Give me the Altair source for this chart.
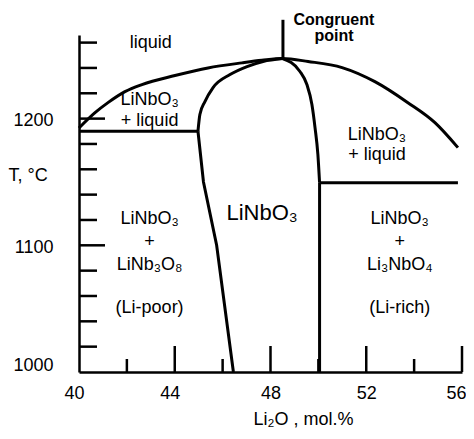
import altair as alt
import pandas as pd

FONT = "Liberation Sans"

# ---- phase boundaries (x = Li2O mol.%, T = deg C) ----
liq_x = [40.0, 40.67, 41.21, 41.92, 42.63, 44.01, 45.39, 46.81, 47.64, 48.5,
         49.57, 50.99, 52.36, 53.74, 54.87, 55.83]
liq_T = [1192.6, 1204.7, 1212.6, 1221.3, 1226.9, 1234.0, 1240.0, 1244.0, 1246.0, 1247.4,
         1245.1, 1240.3, 1229.2, 1212.6, 1196.8, 1177.1]

sol_left_x = [44.97, 45.05, 45.26, 45.60, 46.31, 47.02, 47.69, 48.5]
sol_left_T = [1190.0, 1203.2, 1213.4, 1224.5, 1234.8, 1241.1, 1245.1, 1247.4]

sol_right_x = [48.5, 49.23, 49.52, 49.73, 49.86, 49.98, 50.05]
sol_right_T = [1247.4, 1237.2, 1226.9, 1211.1, 1192.9, 1171.5, 1149.4]

solvus_left_x = [44.97, 45.2, 45.75, 46.45]
solvus_left_T = [1190.0, 1150.0, 1100.0, 1000.0]

solvus_right_x = [50.05, 50.05]
solvus_right_T = [1149.4, 1000.0]

eut_left_x = [40.0, 44.97]
eut_left_T = [1190.0, 1190.0]

eut_right_x = [50.05, 55.83]
eut_right_T = [1149.4, 1149.4]

cong_x = [48.52, 48.52]
cong_T = [1247.4, 1278.0]

# ---- axis ticks / labels ----
x_label_values = [40, 44, 48, 52, 56]
y_label_values = [1000, 1100, 1200]
x_ticks_major = [44, 48, 52, 56]
x_ticks_minor = [42, 46, 50, 54]
y_ticks_major = [1100, 1200]
y_ticks_minor = [1020, 1040, 1060, 1080, 1120, 1140, 1160, 1180, 1220, 1240, 1260]

# ---- region labels ----
lab_text = ["liquid", "LiNbO\u2083", "+ liquid", "LiNbO\u2083", "+ liquid",
            "LiNbO\u2083", "+", "LiNb\u2083O\u2088", "(Li-poor)",
            "LiNbO\u2083", "+", "Li\u2083NbO\u2084", "(Li-rich)"]
lab_x = [43.0, 42.95, 42.95, 52.45, 52.45,
         42.95, 42.95, 42.95, 42.95,
         53.4, 53.4, 53.4, 53.4]
lab_T = [1260.0, 1214.5, 1198.5, 1187.0, 1171.0,
         1120.5, 1103.0, 1084.5, 1050.5,
         1120.5, 1103.0, 1084.5, 1050.5]

big_text = ["LiNbO\u2083"]
big_x = [47.65]
big_T = [1125.7]

cong_text = ["Congruent", "point"]
cong_lx = [50.65, 50.65]
cong_lT = [1277.5, 1265.0]

W, H = 383, 337


def seg(name, xs, ts):
    return pd.DataFrame({"seg": name, "x": xs, "T": ts, "i": range(len(xs))})


smooth = pd.concat([
    seg("liquidus", liq_x, liq_T),
    seg("sol_left", sol_left_x, sol_left_T),
    seg("sol_right", sol_right_x, sol_right_T),
])
straight = pd.concat([
    seg("solvus_left", solvus_left_x, solvus_left_T),
    seg("solvus_right", solvus_right_x, solvus_right_T),
    seg("eut_left", eut_left_x, eut_left_T),
    seg("eut_right", eut_right_x, eut_right_T),
    seg("cong", cong_x, cong_T),
])

xscale = alt.Scale(domain=[40, 56], nice=False, zero=False)
yscale = alt.Scale(domain=[1000, 1266], nice=False, zero=False)

xaxis = alt.Axis(values=x_label_values, format="d", ticks=False, tickSize=0, grid=False,
                 domainColor="black", domainWidth=2.5, labelFontSize=18,
                 labelFont=FONT, labelColor="black", labelPadding=12,
                 labelFlush=False,
                 labelOffset=alt.ExprRef(expr="datum.value == 56 ? -6 : (datum.value <= 44 ? -5 : 0)"),
                 title="Li\u2082O , mol.%", titleFont=FONT,
                 titleFontSize=18, titleFontWeight="normal", titleColor="black",
                 titleX=224, titleY=47, titleAlign="center", titleBaseline="middle")
yaxis = alt.Axis(values=y_label_values, format="d", ticks=False, tickSize=0, grid=False,
                 domainColor="black", domainWidth=2.5, labelFontSize=18,
                 labelFont=FONT, labelColor="black", labelPadding=26,
                 labelFlush=True, labelOffset=2, title="T, \u00b0C", titleFont=FONT,
                 titleFontSize=18, titleFontWeight="normal", titleColor="black",
                 titleAngle=0, titleX=-71, titleY=140, titleAlign="left",
                 titleBaseline="middle")


def X(field="x"):
    return alt.X(f"{field}:Q", scale=xscale, axis=xaxis)


def Y(field="T"):
    return alt.Y(f"{field}:Q", scale=yscale, axis=yaxis)


smooth_layer = alt.Chart(smooth).mark_line(
    color="black", strokeWidth=3, interpolate="monotone", clip=False
).encode(x=X(), y=Y(), detail="seg:N", order="i:Q")

straight_layer = alt.Chart(straight).mark_line(
    color="black", strokeWidth=3, clip=False
).encode(x=X(), y=Y(), detail="seg:N", order="i:Q")

ytick_major = alt.Chart(pd.DataFrame({"T": y_ticks_major})).mark_rule(
    color="black", strokeWidth=2.5
).encode(y=Y(), x=alt.value(0), x2=alt.value(26))
ytick_minor = alt.Chart(pd.DataFrame({"T": y_ticks_minor})).mark_rule(
    color="black", strokeWidth=2.5
).encode(y=Y(), x=alt.value(0), x2=alt.value(18))
xtick_major = alt.Chart(pd.DataFrame({"x": x_ticks_major})).mark_rule(
    color="black", strokeWidth=2.5
).encode(x=X(), y=alt.value(H), y2=alt.value(H - 26))
xtick_minor = alt.Chart(pd.DataFrame({"x": x_ticks_minor})).mark_rule(
    color="black", strokeWidth=2.5
).encode(x=X(), y=alt.value(H), y2=alt.value(H - 13))

labels = alt.Chart(pd.DataFrame({"t": lab_text, "x": lab_x, "T": lab_T})).mark_text(
    font=FONT, fontSize=18, color="black", align="center", baseline="middle"
).encode(x=X(), y=Y(), text="t:N")

big = alt.Chart(pd.DataFrame({"t": big_text, "x": big_x, "T": big_T})).mark_text(
    font=FONT, fontSize=22, color="black", align="center", baseline="middle"
).encode(x=X(), y=Y(), text="t:N")

cong_lab = alt.Chart(pd.DataFrame({"t": cong_text, "x": cong_lx, "T": cong_lT})).mark_text(
    font=FONT, fontSize=16, fontWeight="bold", color="black", align="center",
    baseline="middle"
).encode(x=X(), y=Y(), text="t:N")

chart = alt.layer(
    smooth_layer, straight_layer, ytick_major, ytick_minor, xtick_major,
    xtick_minor, labels, big, cong_lab
).properties(
    width=W, height=H,
    autosize=alt.AutoSizeParams(type="none"),
    padding={"left": 71, "top": 27, "right": 4, "bottom": 58},
    background="white",
).configure_view(stroke=None)

chart.save("out.html", embed_options={"renderer": "svg", "actions": False})
